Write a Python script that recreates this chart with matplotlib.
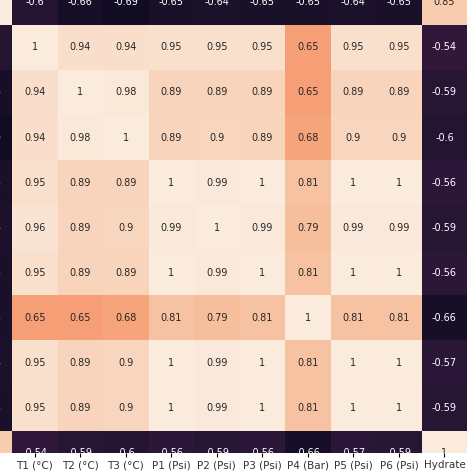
import numpy as np
import matplotlib
matplotlib.use("Agg")
import matplotlib.pyplot as plt
import seaborn as sns

labels = ["Time", "T1 (°C)", "T2 (°C)", "T3 (°C)", "P1 (Psi)", "P2 (Psi)", "P3 (Psi)",
          "P4 (Bar)", "P5 (Psi)", "P6 (Psi)", "Hydrate"]
row_time = [1, -0.6, -0.66, -0.69, -0.65, -0.64, -0.65, -0.65, -0.64, -0.65, 0.85]
row_t1 = [-0.6, 1, 0.94, 0.94, 0.95, 0.95, 0.95, 0.65, 0.95, 0.95, -0.54]
row_t2 = [-0.66, 0.94, 1, 0.98, 0.89, 0.89, 0.89, 0.65, 0.89, 0.89, -0.59]
row_t3 = [-0.69, 0.94, 0.98, 1, 0.89, 0.9, 0.89, 0.68, 0.9, 0.9, -0.6]
row_p1 = [-0.65, 0.95, 0.89, 0.89, 1, 0.99, 1, 0.81, 1, 1, -0.56]
row_p2 = [-0.64, 0.96, 0.89, 0.9, 0.99, 1, 0.99, 0.79, 0.99, 0.99, -0.59]
row_p3 = [-0.65, 0.95, 0.89, 0.89, 1, 0.99, 1, 0.81, 1, 1, -0.56]
row_p4 = [-0.65, 0.65, 0.65, 0.68, 0.81, 0.79, 0.81, 1, 0.81, 0.81, -0.66]
row_p5 = [-0.64, 0.95, 0.89, 0.9, 1, 0.99, 1, 0.81, 1, 1, -0.57]
row_p6 = [-0.65, 0.95, 0.89, 0.9, 1, 0.99, 1, 0.81, 1, 1, -0.59]
row_hyd = [0.85, -0.54, -0.59, -0.6, -0.56, -0.59, -0.56, -0.66, -0.57, -0.59, 1]

corr = np.array([row_time, row_t1, row_t2, row_t3, row_p1, row_p2, row_p3,
                 row_p4, row_p5, row_p6, row_hyd])

fig = plt.figure(figsize=(4.74, 4.74), dpi=100)
ax = fig.add_axes([0, 0.044, 1, 0.956])
sns.heatmap(corr, annot=True, cmap="rocket", vmin=-0.77, vmax=1, cbar=False,
            xticklabels=labels, yticklabels=labels, ax=ax,
            annot_kws={"fontsize": 7})
for t in ax.texts:
    t.set_clip_on(True)
ax.set_xlim(0.736, 11.15)
ax.set_ylim(10.5, 0.45)
ax.tick_params(axis="x", labelsize=7.5, length=3, pad=2, labelcolor="#333333", rotation=0)
ax.tick_params(axis="y", left=False, labelleft=False)
fig.savefig("out.png", dpi=100)
